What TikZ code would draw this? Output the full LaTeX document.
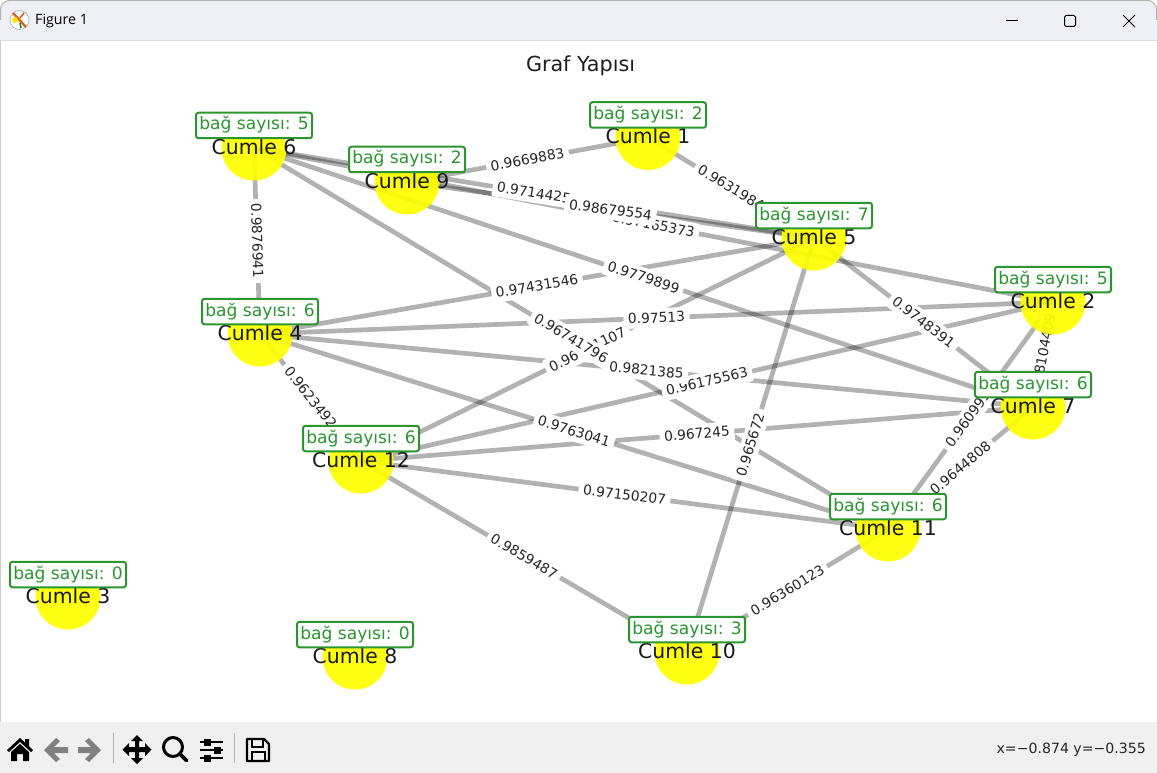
\documentclass[tikz,border=0pt]{standalone}
\usepackage{fontspec}
\setmainfont{DejaVu Sans}
\newfontfamily\uifont{Open Sans}
\usetikzlibrary{positioning}
\newcommand{\sized}[1]{\fontsize{#1}{#1}\selectfont}
\definecolor{barcolor}{HTML}{EFF0F6}
\definecolor{toolcolor}{HTML}{F0F0F0}
\definecolor{boxgreen}{HTML}{2A962F}
\definecolor{nodeyellow}{RGB}{255,255,0}
\definecolor{iconorange}{RGB}{225,95,30}
\tikzset{
	graf edge/.style={
		line width=4.7pt,
		black,
		opacity=0.3
	},
	weight/.style={
		sloped,
		midway,
		fill=white,
		rounded corners=2pt,
		inner xsep=4.5pt,
		inner ysep=4.5pt,
		text height=10pt,
		text depth=0.5pt,
		text=black!85,
		font=\sized{13.8}
	},
	sentence/.style={
		circle,
		fill=nodeyellow,
		fill opacity=0.92,
		minimum size=65pt,
		inner sep=0pt
	},
	sentence name/.style={
		inner sep=0pt,
		text=black!90,
		font=\sized{20.4}
	},
	degree box/.style={
		rectangle,
		draw=boxgreen,
		line width=2pt,
		rounded corners=2.5pt,
		fill=white,
		text=boxgreen,
		minimum width=116pt,
		minimum height=25.5pt,
		inner sep=0pt,
		text height=12.5pt,
		text depth=3.5pt,
		font=\sized{17.1}
	},
	tool sep/.style={
		line width=1pt,
		black!30
	}
}
% sentence / x / y / degree
\newcommand{\sentencelist}{
	1/648/137.5/2, 2/1053/302/5, 3/68/597/0, 4/260/334/6,
	5/814/238/7, 6/254/148/5, 7/1033/407/6, 8/355/657/0,
	9/407/182/2, 10/687/652/3, 11/888/529/6, 12/361/461/6
}
% drawn in this order, later labels hide earlier ones
\newcommand{\edgelist}{
	1/9/0.9669883, 1/5/0.9631984, 6/4/0.9876941, 6/5/0.9714425,
	6/2/0.97165373, 9/5/0.98679554, 5/4/0.97431546, 5/12/0.96741107,
	5/10/0.965672, 5/7/0.9748391, 4/2/0.97513, 12/2/0.96175563,
	2/7/0.98104409, 2/11/0.9609917, 6/7/0.9779899, 6/11/0.96741796,
	4/7/0.9821385, 12/7/0.967245, 7/11/0.9644808, 4/11/0.9763041,
	12/11/0.97150207, 11/10/0.96360123, 12/4/0.9623492, 12/10/0.9859487
}
\begin{document}
\begin{tikzpicture}[x=1pt,y=-1pt]
	\useasboundingbox (0,0) rectangle (1157,773);
	\fill[white] (0,0) rectangle (1157,773);
	% window
	\fill[barcolor,rounded corners=9pt] (0,40) -- (0,0.5) -- (1157,0.5) -- (1157,40) -- cycle;
	\fill[barcolor] (0,15) rectangle (1157,40);
	\draw[black!30,line width=1pt,rounded corners=9pt] (0.5,20) -- (0.5,0.5) -- (1156.5,0.5) -- (1156.5,20);
	\draw[black!12,line width=1pt] (0,40.5) -- (1157,40.5);
	\draw[black!20,line width=1pt] (0.5,40) -- (0.5,722);
	\node[circle,draw=black!45,fill=white,minimum size=19pt,inner sep=0pt] (appicon) at (19.5,20) {};
	\draw[iconorange,line width=2.4pt] (13,13) -- (26,27);
	\draw[iconorange,line width=1.6pt] (24,13) -- (20,18);
	\fill[nodeyellow!80!orange] (15,20) circle (3pt);
	\draw[green!55!black,line width=1.4pt] (20,23) -- (21,28);
	\node[anchor=west,inner sep=0pt,font=\uifont\sized{14.2}] (figtitle) at (35,20.5) {Figure 1};
	\draw[black,line width=1pt] (1006,20.5) -- (1018,20.5);
	\draw[black,line width=1pt,rounded corners=1.5pt] (1064.5,15.5) rectangle (1075.5,26.5);
	\draw[black,line width=1pt] (1123,15) -- (1135,27) (1135,15) -- (1123,27);
	\node[font=\sized{20.7},text=black!88,inner sep=0pt] (grafyapisi) at (580.5,66) {Graf Yapısı};
	% toolbar
	\fill[toolcolor] (0,722) rectangle (1157,773);
	\fill[black] (7,750) -- (20,738) -- (25,742.5) -- (25,739) -- (29,739) -- (29,746) -- (33,750) -- (31,752) -- (20,742) -- (9,752) -- cycle;
	\fill[black] (11,752) -- (20,744) -- (29,752) -- (29,761) -- (23,761) -- (23,754) -- (17,754) -- (17,761) -- (11,761) -- cycle;
	\fill[black!50] (44,750) -- (56,738) -- (60,741) -- (54,747) -- (68,747) -- (68,753) -- (54,753) -- (60,759) -- (56,762) -- cycle;
	\fill[black!50] (101,750) -- (89,738) -- (85,741) -- (91,747) -- (78,747) -- (78,753) -- (91,753) -- (85,759) -- (89,762) -- cycle;
	\draw[tool sep] (113,733) -- (113,763);
	\fill[black] (137,735) -- (143,741) -- (139,741) -- (139,747) -- (145,747) -- (145,743) -- (151.5,749.5) -- (145,756) -- (145,752) -- (139,752) -- (139,758) -- (143,758) -- (137,764) -- (131,758) -- (135,758) -- (135,752) -- (129,752) -- (129,756) -- (122.5,749.5) -- (129,743) -- (129,747) -- (135,747) -- (135,741) -- (131,741) -- cycle;
	\draw[black,line width=3pt] (173,747) circle (9.5pt);
	\draw[black,line width=3.6pt,line cap=round] (180,754) -- (186.5,760.5);
	\foreach \yy/\xx in {742/207,750/217,758/207} {
		\draw[black,line width=1.6pt] (199.5,\yy) -- (223,\yy);
		\fill[black] (\xx-3.5,\yy-3.5) rectangle (\xx+3.5,\yy+3.5);
	}
	\draw[tool sep] (234,733) -- (234,763);
	\draw[black,line width=2.2pt,line join=round] (247,739) -- (264,739) -- (269,744) -- (269,761) -- (247,761) -- cycle;
	\draw[black,line width=2pt] (252,739) rectangle (263,747) (252,761) rectangle (265,752);
	\node[anchor=east,inner sep=0pt,font=\sized{14.1},text=black!85] (cursorpos) at (1146,750) {x=−0.874 y=−0.355};
	% graph
	\foreach \i/\xpos/\ypos/\deg in \sentencelist {
		\coordinate (c\i) at (\xpos,\ypos);
	}
	\foreach \a/\b/\w in \edgelist {
		\draw[graf edge] (c\a) -- (c\b);
	}
	\foreach \a/\b/\w in \edgelist {
		\path (c\a) -- node[weight] (w\a-\b) {\w} (c\b);
	}
	\foreach \i/\xpos/\ypos/\deg in \sentencelist {
		\node[sentence] (n\i) at (c\i) {};
	}
	\foreach \i/\xpos/\ypos/\deg in \sentencelist {
		\node[sentence name] (name\i) at ([yshift=1.5pt]c\i) {Cumle \i};
	}
	\foreach \i/\xpos/\ypos/\deg in \sentencelist {
		\node[degree box] (box\i) at ([yshift=22.5pt]c\i) {bağ sayısı: \deg};
	}
\end{tikzpicture}
\end{document}
